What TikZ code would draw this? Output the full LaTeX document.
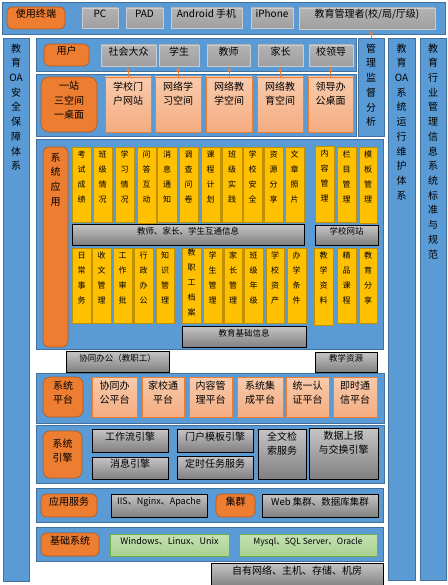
\documentclass[tikz,border=0pt]{standalone}
\usepackage{fontspec}
\setmainfont{Noto Sans CJK SC}
\usetikzlibrary{fit}
\definecolor{panelblue}{HTML}{5B9BD5}
\definecolor{panelline}{HTML}{41719C}
\definecolor{orangefill}{HTML}{ED7D31}
\definecolor{orangeline}{HTML}{AE5A21}
\definecolor{salmontop}{HTML}{F8CBAD}
\definecolor{salmonbot}{HTML}{F4AC80}
\definecolor{yellowfill}{HTML}{FFC000}
\definecolor{yellowline}{HTML}{BF9000}
\definecolor{greentop}{HTML}{C5E0B4}
\definecolor{greenbot}{HTML}{A9D18E}
\definecolor{greenline}{HTML}{70AD47}
\tikzset{
  box/.style={inner sep=0pt, align=center, font=\fontsize{10}{14}\selectfont},
  panel/.style={box, draw=panelline, fill=panelblue, line width=0.8pt},
  obox/.style={box, draw=orangeline, fill=orangefill, rounded corners=5pt, line width=0.6pt},
  sbox/.style={box, draw=orangefill, top color=salmontop, bottom color=salmonbot, line width=0.8pt},
  lgray/.style={box, draw=gray!40, top color=gray!60, bottom color=gray!75, line width=0.6pt},
  dgray/.style={box, draw=black, top color=gray!45, bottom color=gray, line width=0.8pt},
  gbox/.style={box, draw=greenline, top color=greentop, bottom color=greenbot, line width=0.8pt, font=\fontsize{9}{12}\selectfont},
  ybox/.style={box, draw=yellowline, fill=yellowfill, line width=0.6pt, font=\fontsize{8}{15}\selectfont},
  smalltext/.style={font=\fontsize{8.5}{12}\selectfont},
  vtext/.style={inner sep=0pt, align=center, anchor=north, font=\fontsize{10}{14.7}\selectfont},
  conn/.style={draw=orangefill, line width=0.8pt, -latex},
}
\begin{document}
\begin{tikzpicture}[x=1pt,y=-1pt]
\useasboundingbox (0,0) rectangle (447,585);
% terminals
\node[panel, fit={(2,2)(445,34)}] (terminal) {};
\node[obox, fit={(7,7)(65,29)}] (syzd) {使用终端};
\node[lgray, fit={(82,8)(118,28)}] (pc) {PC};
\node[lgray, fit={(126,8)(163,28)}] (pad) {PAD};
\node[lgray, fit={(171,8)(242,28)}] (android) {Android 手机};
\node[lgray, fit={(251,8)(293,28)}] (iphone) {iPhone};
\node[lgray, fit={(299,8)(435,29)}] (jygl) {教育管理者(校/局/厅级)};
% side bars
\node[panel, fit={(3,38)(29,581)}] (aqbz) {};
\node[vtext] (aqbz-t) at ([yshift=-6pt]aqbz.north) {教\\育\\OA\\安\\全\\保\\障\\体\\系};
\node[panel, fit={(358,38)(384,136)}] (jgfx) {};
\node[vtext] (jgfx-t) at ([yshift=-6pt]jgfx.north) {管\\理\\监\\督\\分\\析};
\node[panel, fit={(388,38)(415,580)}] (ywtx) {};
\node[vtext] (ywtx-t) at ([yshift=-6pt]ywtx.north) {教\\育\\OA\\系\\统\\运\\行\\维\\护\\体\\系};
\node[panel, fit={(420,38)(446,580)}] (bzgf) {};
\node[vtext] (bzgf-t) at ([yshift=-6pt]bzgf.north) {教\\育\\行\\业\\管\\理\\信\\息\\系\\统\\标\\准\\与\\规\\范};
% users
\node[panel, fit={(36,38)(356,71)}] (userrow) {};
\node[obox, fit={(44,44)(89,66)}] (yh) {用户};
\node[lgray, fit={(101,45)(156,66)}] (shdz) {社会大众};
\node[lgray, fit={(159,45)(199,66)}] (xs) {学生};
\node[lgray, fit={(207,45)(250,66)}] (js) {教师};
\node[lgray, fit={(258,45)(303,66)}] (jz) {家长};
\node[lgray, fit={(309,45)(353,66)}] (xld) {校领导};
% one portal, three spaces, one desktop
\node[panel, fit={(36,74)(356,136)}] (spacerow) {};
\node[obox, rounded corners=8pt, font=\fontsize{10}{14.5}\selectfont, fit={(41,77)(97,132)}] (yz) {一站\\三空间\\一桌面};
\node[sbox, font=\fontsize{10}{13.5}\selectfont, fit={(105,77)(151,132)}] (xxmh) {学校门\\户网站\\\mbox{}};
\node[sbox, font=\fontsize{10}{13.5}\selectfont, fit={(155,77)(201,132)}] (wlxx) {网络学\\习空间\\\mbox{}};
\node[sbox, font=\fontsize{10}{13.5}\selectfont, fit={(206,77)(252,132)}] (wljx) {网络教\\学空间\\\mbox{}};
\node[sbox, font=\fontsize{10}{13.5}\selectfont, fit={(257,77)(303,132)}] (wljy) {网络教\\育空间\\\mbox{}};
\node[sbox, font=\fontsize{10}{13.5}\selectfont, fit={(308,77)(353,132)}] (ldbg) {领导办\\公桌面\\\mbox{}};
\draw[conn] (xxmh.north) -- (xxmh.north |- shdz.south);
\draw[conn] (wlxx.north) -- (wlxx.north |- xs.south);
\draw[conn] (wljx.north) -- (wljx.north |- js.south);
\draw[conn] (wljy.north) -- (wljy.north |- jz.south);
\draw[conn] (ldbg.north) -- (ldbg.north |- xld.south);
\draw[conn] (jgfx.north) -- (jgfx.north |- jygl.south);
% applications
\node[panel, fit={(36,139)(383,349)}] (approw) {};
\node[obox, rounded corners=6pt, fit={(43,147)(68,347)}] (xtyy) {};
\node[vtext] (xtyy-t) at ([yshift=-6pt]xtyy.north) {系\\统\\应\\用};
\node[ybox, fit={(72,147)(91,222)}] (kscj) {考\\试\\成\\绩\\[-6pt]\mbox{}};
\node[ybox, fit={(93,147)(112,222)}] (bjqk) {班\\级\\情\\况\\[-6pt]\mbox{}};
\node[ybox, fit={(115,147)(134,222)}] (xxqk) {学\\习\\情\\况\\[-6pt]\mbox{}};
\node[ybox, fit={(137,147)(156,223)}] (wdhd) {问\\答\\互\\动\\[-6pt]\mbox{}};
\node[ybox, fit={(157,147)(177,222)}] (xxtz) {消\\息\\通\\知\\[-6pt]\mbox{}};
\node[ybox, fit={(179,147)(198,222)}] (dcwj) {调\\查\\问\\卷\\[-6pt]\mbox{}};
\node[ybox, fit={(201,147)(220,222)}] (kcjh) {课\\程\\计\\划\\[-6pt]\mbox{}};
\node[ybox, fit={(222,147)(242,222)}] (bjsj) {班\\级\\实\\践\\[-6pt]\mbox{}};
\node[ybox, fit={(243,147)(262,222)}] (xxaq) {学\\校\\安\\全\\[-6pt]\mbox{}};
\node[ybox, fit={(264,147)(283,222)}] (zyfx) {资\\源\\分\\享\\[-6pt]\mbox{}};
\node[ybox, fit={(285,147)(304,222)}] (wzzp) {文\\章\\照\\片\\[-6pt]\mbox{}};
\node[ybox, fit={(315,146)(334,222)}] (nrgl) {内\\容\\管\\理\\[-6pt]\mbox{}};
\node[ybox, fit={(337,147)(356,222)}] (lmgl) {栏\\目\\管\\理\\[-6pt]\mbox{}};
\node[ybox, fit={(359,147)(377,223)}] (mbgl) {模\\板\\管\\理\\[-6pt]\mbox{}};
\node[dgray, smalltext, fit={(72,224)(304,245)}] (htxx) {教师、家长、学生互通信息};
\node[dgray, smalltext, fit={(315,225)(378,245)}] (xxwz) {学校网站};
\node[ybox, fit={(72,248)(91,323)}] (rcsw) {日\\常\\事\\务\\[-6pt]\mbox{}};
\node[ybox, fit={(92,248)(111,323)}] (swgl) {收\\文\\管\\理\\[-6pt]\mbox{}};
\node[ybox, fit={(113,248)(132,323)}] (gzsp) {工\\作\\审\\批\\[-6pt]\mbox{}};
\node[ybox, fit={(134,248)(153,323)}] (xzbg) {行\\政\\办\\公\\[-6pt]\mbox{}};
\node[ybox, fit={(156,248)(174,323)}] (zsgl) {知\\识\\管\\理\\[-6pt]\mbox{}};
\node[ybox, fit={(182,248)(201,323)}] (jzgda) {教\\职\\工\\档\\案};
\node[ybox, fit={(203,248)(222,323)}] (xsgl) {学\\生\\管\\理\\[-6pt]\mbox{}};
\node[ybox, fit={(224,248)(242,323)}] (jzgl) {家\\长\\管\\理\\[-6pt]\mbox{}};
\node[ybox, fit={(244,248)(263,323)}] (bjnj) {班\\级\\年\\级\\[-6pt]\mbox{}};
\node[ybox, fit={(266,248)(284,323)}] (xxzc) {学\\校\\资\\产\\[-6pt]\mbox{}};
\node[ybox, fit={(287,248)(306,323)}] (bxtj) {办\\学\\条\\件\\[-6pt]\mbox{}};
\node[ybox, fit={(314,248)(333,325)}] (jxzl) {教\\学\\资\\料\\[-4pt]\mbox{}};
\node[ybox, fit={(337,248)(356,323)}] (jpkc) {精\\品\\课\\程\\[-6pt]\mbox{}};
\node[ybox, fit={(359,248)(377,323)}] (jyfx) {教\\育\\分\\享\\[-6pt]\mbox{}};
\node[dgray, smalltext, fit={(182,326)(306,347)}] (jcxx) {教育基础信息};
\node[dgray, smalltext, fit={(66,351)(169,372)}] (xtbg) {协同办公（教职工）};
\node[dgray, smalltext, fit={(315,352)(377,372)}] (jxzy) {教学资源};
% platforms
\node[panel, fit={(36,373)(384,423)}] (platrow) {};
\node[obox, rounded corners=7pt, fit={(43,377)(83,417)}] (xtpt) {系统\\平台};
\node[sbox, fit={(92,377)(137,417)}] (xtbgpt) {协同办\\公平台};
\node[sbox, fit={(142,377)(184,417)}] (jxtpt) {家校通\\平台};
\node[sbox, fit={(189,377)(232,417)}] (nrglpt) {内容管\\理平台};
\node[sbox, fit={(237,377)(283,417)}] (xtjcpt) {系统集\\成平台};
\node[sbox, fit={(286,377)(329,417)}] (tyrzpt) {统一认\\证平台};
\node[sbox, fit={(333,377)(377,417)}] (jstxpt) {即时通\\信平台};
% engines
\node[panel, fit={(36,425)(384,483)}] (enginerow) {};
\node[obox, rounded corners=7pt, fit={(43,431)(82,478)}] (xtyq) {系统\\引擎};
\node[dgray, fit={(92,429)(168,452)}] (gzlyq) {工作流引擎};
\node[dgray, fit={(92,457)(168,479)}] (xxyq) {消息引擎};
\node[dgray, fit={(177,429)(253,452)}] (mhmbyq) {门户模板引擎};
\node[dgray, fit={(177,456)(253,479)}] (dsrw) {定时任务服务};
\node[dgray, fit={(258,429)(306,479)}] (qwjs) {全文检\\索服务\\\mbox{}};
\node[dgray, fit={(309,428)(378,479)}] (sjsb) {数据上报\\与交换引擎\\\mbox{}};
% application services
\node[panel, fit={(36,488)(383,522)}] (servrow) {};
\node[obox, fit={(41,494)(97,517)}] (yyfw) {应用服务};
\node[dgray, font=\fontsize{9}{12}\selectfont, fit={(111,494)(207,517)}] (iis) {IIS、Nginx、Apache};
\node[obox, fit={(216,494)(255,517)}] (jq) {集群};
\node[dgray, font=\fontsize{9.5}{12}\selectfont, fit={(262,494)(378,517)}] (webjq) {Web 集群、数据库集群};
% base systems
\node[panel, fit={(36,527)(383,561)}] (baserow) {};
\node[obox, fit={(41,533)(99,556)}] (jcxt) {基础系统};
\node[gbox, fit={(110,534)(229,556)}] (os) {Windows、Linux、Unix};
\node[gbox, font=\fontsize{8.5}{12}\selectfont, fit={(239,534)(377,556)}] (db) {Mysql、SQL Server、Oracle};
\node[dgray, fit={(211,563)(383,587)}] (zywl) {自有网络、主机、存储、机房};
\end{tikzpicture}
\end{document}
